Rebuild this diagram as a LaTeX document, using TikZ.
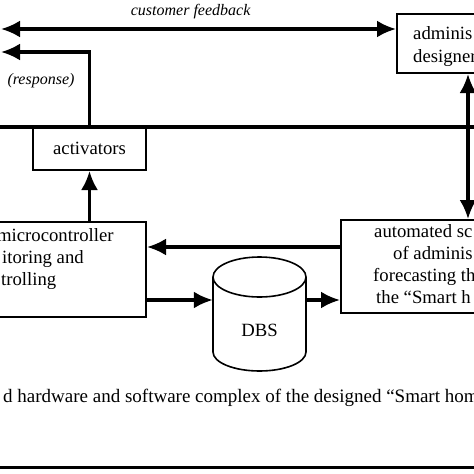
\documentclass[tikz,border=0pt]{standalone}
\usepackage{fontspec}
\setmainfont{Liberation Serif}
\usetikzlibrary{arrows.meta,positioning}
\tikzset{>={Latex[length=19pt,width=17pt]},
  blok/.style={draw, line width=2pt, inner sep=0pt,
    font=\fontsize{18.7}{22}\selectfont},
  strelka/.style={line width=3.2pt},
  txt/.style={inner sep=0pt, anchor=base west,
    font=\fontsize{18.7}{22}\selectfont},
  lbl/.style={inner sep=0pt, anchor=base,
    font=\fontsize{16}{19}\selectfont\itshape}}

\begin{document}
\begin{tikzpicture}[x=1pt,y=-1pt]
  \useasboundingbox (0,0) rectangle (474,474);
  \clip (0,0) rectangle (474,474);
  % blocks
  \node[blok, minimum width=90pt, minimum height=59pt] (adm) at (442,43.5) {};
  \node[txt] (adm1) at (413,39) {adminis};
  \node[txt] (adm2) at (413,62) {designer};
  \node[blok, minimum width=113pt, minimum height=43pt] (act) at (89.5,148.5) {activators};
  \node[blok, minimum width=151pt, minimum height=95pt] (mc) at (70.5,269.5) {};
  \node[txt] (mc1) at (-3,241) {microcontroller};
  \node[txt] (mc2) at (2,263) {itoring and};
  \node[txt] (mc3) at (1,285) {trolling};
  \node[blok, minimum width=149pt, minimum height=93pt] (aut) at (415.5,266.5) {};
  \node[txt] (aut1) at (374,237) {automated sc};
  \node[txt] (aut2) at (393,259) {of adminis};
  \node[txt] (aut3) at (373,281) {forecasting th};
  \node[txt] (aut4) at (376,303) {the “Smart h};
  % database
  \draw[line width=1.6pt] (259.5,277) ellipse [x radius=46.5pt, y radius=20pt];
  \draw[line width=1.6pt] (213,277) -- (213,352)
    arc[start angle=180, end angle=360, x radius=46.5pt, y radius=19pt] -- (306,277);
  \node[inner sep=0pt, minimum width=93pt, font=\fontsize{18.7}{22}\selectfont] (dbs) at (259.5,330) {DBS};
  % connections
  \coordinate (fbL) at (1,29);
  \coordinate (respL) at (1,52);
  \coordinate (busL) at (0,127);
  \coordinate (busR) at (474,127);
  \coordinate (vx) at (468,0);
  \coordinate (y1) at (0,247);
  \coordinate (y2) at (0,300);
  \draw[strelka,<->] (fbL) -- (fbL -| adm.west)
    node[lbl, pos=0.48, above=8pt] {customer feedback};
  \draw[strelka,->] (act.north) |- (respL);
  \node[lbl] (resp) at (41,84) {(response)};
  \draw[strelka] (busL) -- (busR);
  \draw[strelka,->] (act.south |- mc.north) -- (act.south);
  \draw[strelka,<->] (vx |- adm.south) -- (vx |- aut.north);
  \draw[strelka,->] (aut.west |- y1) -- (mc.east |- y1);
  \draw[strelka,->] (mc.east |- y2) -- (dbs.west |- y2);
  \draw[strelka,->] (dbs.east |- y2) -- (aut.west |- y2);
  % caption
  \node[txt, font=\fontsize{19}{22}\selectfont] (cap) at (3,402)
    {d hardware and software complex of the designed “Smart hom};
  \draw[line width=3pt] (0,467) -- (474,467);
\end{tikzpicture}
\end{document}
